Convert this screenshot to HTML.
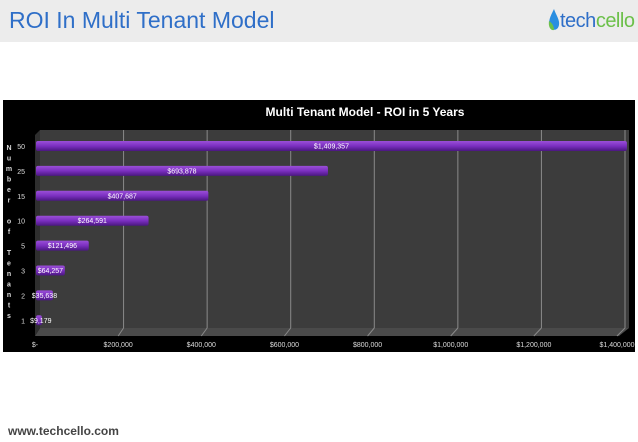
<!DOCTYPE html>
<html><head><meta charset="utf-8"><style>
body{margin:0;width:638px;height:442px;overflow:hidden;background:#fff;font-family:"Liberation Sans",sans-serif;position:relative}
#hdr{position:absolute;left:0;top:0;width:638px;height:42px;background:#ececec}
#ttl{position:absolute;left:9px;top:7px;font-size:23px;color:#2f6fc8}
#logo{position:absolute;left:548px;top:9px;font-size:20px;color:#2f6fc8;letter-spacing:-0.5px}
#foot{position:absolute;left:8px;top:424px;font-size:12px;font-weight:bold;color:#444}
</style></head><body>
<div id="hdr"></div>
<div id="ttl">ROI In Multi Tenant Model</div>
<div id="logo"><svg width="12" height="22" style="vertical-align:-4px"><path d="M6 0 C2 8 0 12 2 18 C4 22 10 22 11 16 C12 11 8 6 6 0Z" fill="#2a8ee0"/><path d="M1 12 C0 18 3 22 6 21 C6 17 4 14 1 12Z" fill="#6cc04a"/></svg>tech<span style="color:#6cc04a">cello</span></div>
<div id="foot">www.techcello.com</div>
<svg id="chart" width="638" height="442" style="position:absolute;left:0;top:0"></svg>
<script>
const categories=["50","25","15","10","5","3","2","1"];
const values=[1409357,693878,407687,264591,121496,64257,35638,9179];
const labels=["$1,409,357","$693,878","$407,687","$264,591","$121,496","$64,257","$35,638","$9,179"];
const ticks=[0,200000,400000,600000,800000,1000000,1200000,1400000];
const tickLabels=["$-","$200,000","$400,000","$600,000","$800,000","$1,000,000","$1,200,000","$1,400,000"];
const svg=document.getElementById('chart');const NS='http://www.w3.org/2000/svg';
function mk(t,a,p){const e=document.createElementNS(NS,t);for(const k in a)e.setAttribute(k,a[k]);(p||svg).appendChild(e);return e;}
const x0=40,xMax=1400000,xW=585,wallTop=130,wallBot=328,fx0=35,fy=336;
const xb=v=>x0+v/xMax*xW; const xf=v=>fx0+v/xMax*(xW-3);
const yc=i=>146+i*24.9;
let e;
e=mk('rect',{x:3,y:100,width:632,height:252,fill:'#000'});

e=mk('text',{x:365,y:116,fill:'#fff','font-size':12,'font-weight':'bold','text-anchor':'middle'});e.textContent='Multi Tenant Model - ROI in 5 Years';

e=mk('rect',{x:x0,y:wallTop,width:xW+4,height:wallBot-wallTop,fill:'#3c3c3c'});

e=mk('polygon',{points:`${x0},${wallBot} ${x0+xW+4},${wallBot} ${xf(xMax)+2},${fy} ${fx0},${fy}`,fill:'#4a4a4a'});

e=mk('polygon',{points:`${fx0},${wallTop+5} ${x0},${wallTop} ${x0},${wallBot} ${fx0},${fy}`,fill:'#2e2e2e'});

ticks.forEach((t,i)=>{
 if(i>0){e=mk('line',{x1:xb(t),y1:wallTop,x2:xb(t),y2:wallBot,stroke:'#8a8a8a','stroke-width':1});
 
 mk('line',{x1:xb(t),y1:wallBot,x2:xf(t),y2:fy,stroke:'#8a8a8a','stroke-width':1});}
 e=mk('text',{x:xf(t),y:347,fill:'#ddd','font-size':7,'text-anchor':'middle'});e.textContent=tickLabels[i];
 
});
const defs=mk('defs',{});const g=mk('linearGradient',{id:'bg',x1:0,y1:0,x2:0,y2:1},defs);
mk('stop',{offset:'0','stop-color':'#9a4fd8'},g);mk('stop',{offset:'0.5','stop-color':'#7b2fc0'},g);mk('stop',{offset:'1','stop-color':'#4a1780'},g);
categories.forEach((c,i)=>{
 const y=yc(i),w=xb(values[i])-x0+2;
 e=mk('rect',{x:x0-4,y:y-5,width:Math.max(w,4),height:10,rx:2,fill:'url(#bg)'});
 
 e=mk('text',{x:Math.max(x0-4+w/2,x0-10+ labels[i].length*1.8),y:y+2.5,fill:'#fff','font-size':7,'text-anchor':'middle'});e.textContent=labels[i];
 
 e=mk('text',{x:25,y:y+3,fill:'#ddd','font-size':7,'text-anchor':'end'});e.textContent=c;
 
});
const yt="Number of Tenants";
[...yt].forEach((ch,i)=>{if(ch===' ')return;
 e=mk('text',{x:9,y:150+i*10.5,fill:'#ddd','font-size':7,'font-weight':'bold','text-anchor':'middle'});e.textContent=ch;
 });
</script>
</body></html>
